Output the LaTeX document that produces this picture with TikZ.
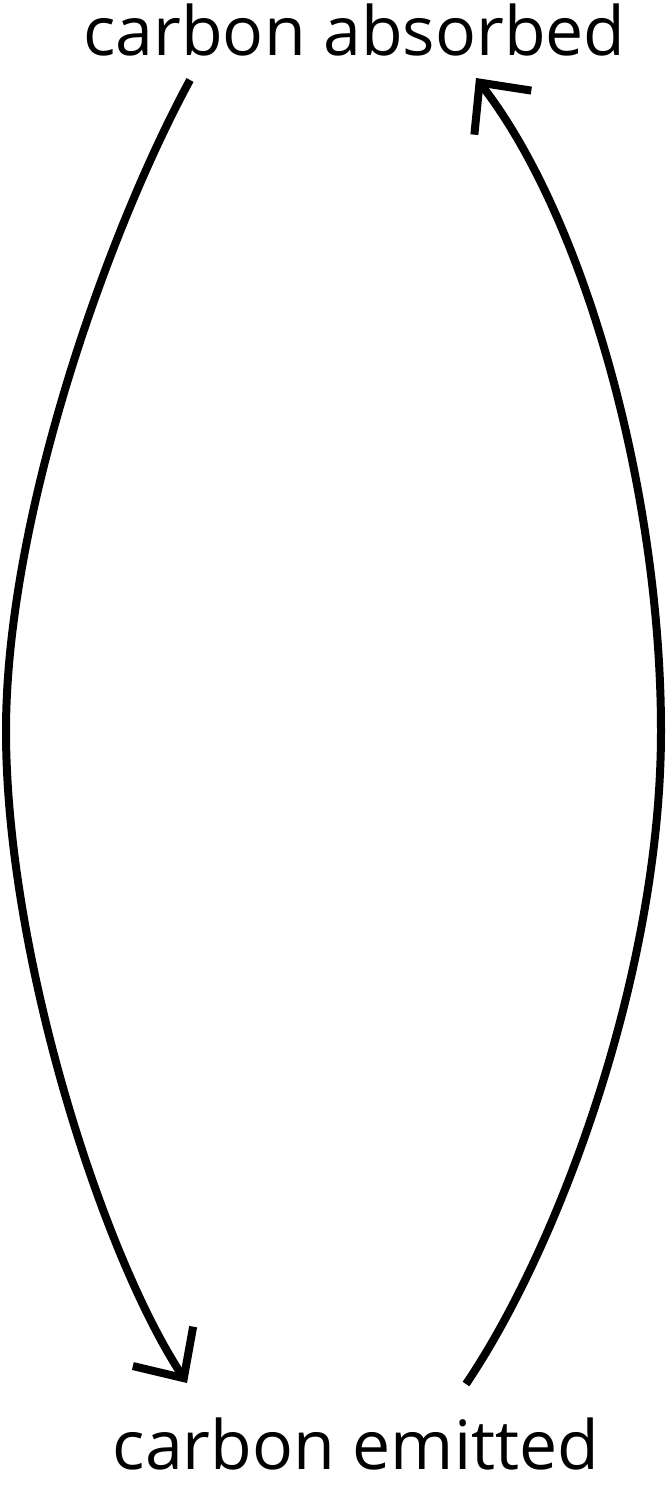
\documentclass[tikz,border=0pt]{standalone}
\usepackage{fontspec}
\setmainfont{Open Sans}
\usetikzlibrary{arrows.meta}
\begin{document}
\begin{tikzpicture}[x=1pt,y=-1pt,
  lbl/.style={inner sep=0pt,anchor=base,font=\fontsize{68}{68}\selectfont},
  cyc/.style={line width=8pt,-{Straight Barb[length=38pt,width=72pt]}}]
\useasboundingbox (0,0) rectangle (665,1486);
\node[lbl] (abs) at (354.5,55) {carbon absorbed};
\node[lbl] (emi) at (356,1469) {carbon emitted};
\coordinate (lt) at (190,80);
\coordinate (lm) at (6,731);
\coordinate (lb) at (187,1383);
\coordinate (rb) at (466,1384);
\coordinate (rm) at (661,731);
\coordinate (rt) at (476,78);
\draw[cyc] (lt) .. controls (106,235) and (6,520) .. (lm)
  .. controls (6,950) and (100,1250) .. (lb);
\draw[cyc] (rb) .. controls (560,1245) and (661,970) .. (rm)
  .. controls (661,495) and (586,220) .. (rt);
\end{tikzpicture}
\end{document}
